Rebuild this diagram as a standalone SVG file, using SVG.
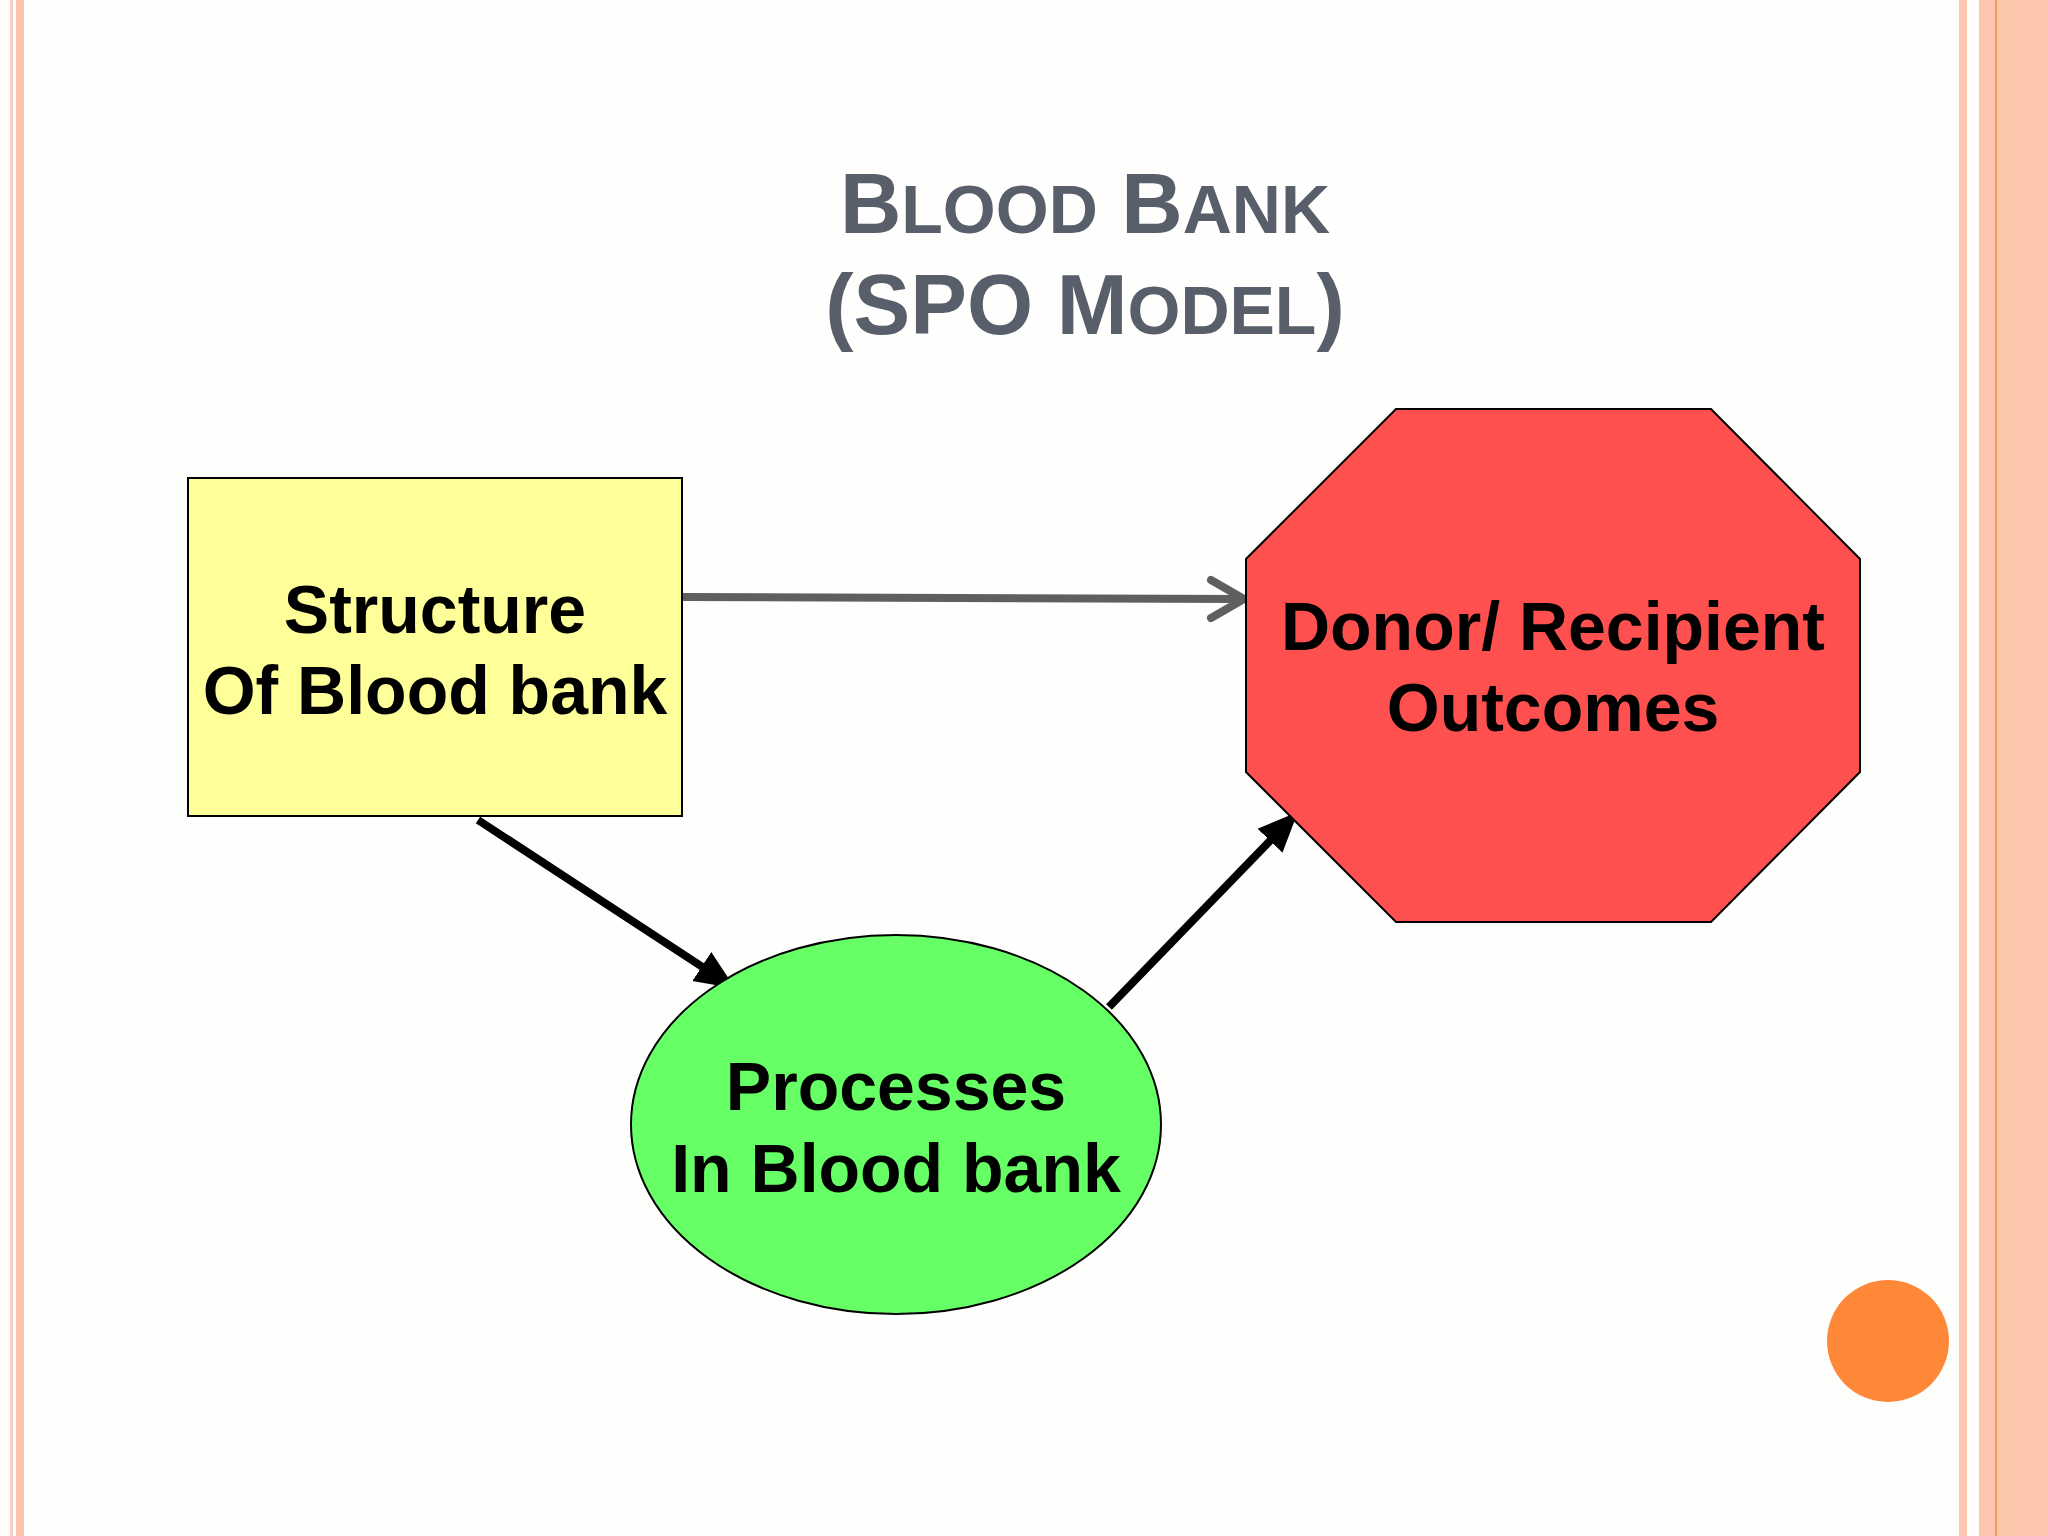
<svg xmlns="http://www.w3.org/2000/svg" width="2048" height="1536" viewBox="0 0 2048 1536">
  <style>
    .lbl { font-family: "Liberation Sans", Arial, sans-serif; font-weight: bold; font-size: 68px; fill: #000; text-anchor: middle; }
    .ttl { font-family: "Liberation Sans", Arial, sans-serif; font-weight: bold; font-size: 85px; fill: #595E6B; text-anchor: middle; }
    .sc { font-size: 68px; }
    .node { stroke: #000; stroke-width: 2; }
    .blk { stroke: #000; stroke-width: 8; fill: none; }
    .gry { stroke: #5F5F5F; stroke-width: 8; fill: none; stroke-linecap: round; stroke-linejoin: round; }
  </style>
  <defs>
    <marker id="tri" markerUnits="userSpaceOnUse" markerWidth="40" markerHeight="40" viewBox="0 0 30 26" refX="28" refY="13" orient="auto">
      <path d="M0,0 L30,13 L0,26 Z" fill="#000"/>
    </marker>
  </defs>
  <rect x="0" y="0" width="2048" height="1536" fill="#FEFEFC"/>
  <g id="border">
    <rect x="10" y="0" width="3" height="1536" fill="#F8CFC2"/>
    <rect x="16" y="0" width="8" height="1536" fill="#FCC2AA"/>
    <rect x="1959" y="0" width="8" height="1536" fill="#FCC8B4"/>
    <rect x="1979" y="0" width="69" height="1536" fill="#FDC5AE"/>
    <rect x="1995" y="0" width="2" height="1536" fill="#F79565"/>
    <rect x="1997" y="0" width="14" height="1536" fill="#FBC8AA"/>
  </g>
  <g id="title">
    <text class="ttl" x="1085" y="233">B<tspan class="sc">LOOD</tspan> B<tspan class="sc">ANK</tspan></text>
    <text class="ttl" x="1085" y="334">(SPO M<tspan class="sc">ODEL</tspan>)</text>
  </g>
  <g id="connectors">
    <path class="gry" d="M682,597 L1242,599"/>
    <path class="gry" d="M1211,580 L1244,599 L1211,618"/>
    <path class="blk" d="M478,820 L733,987" marker-end="url(#tri)"/>
    <path class="blk" d="M1109,1007 L1296,814" marker-end="url(#tri)"/>
  </g>
  <g id="structure">
    <rect class="node" x="188" y="478" width="494" height="338" fill="#FFFF99"/>
    <text class="lbl" x="435" y="633">Structure</text>
    <text class="lbl" x="435" y="714">Of Blood bank</text>
  </g>
  <g id="processes">
    <ellipse class="node" cx="896" cy="1124.5" rx="265" ry="189.5" fill="#66FF66"/>
    <text class="lbl" x="896" y="1110">Processes</text>
    <text class="lbl" x="896" y="1192">In Blood bank</text>
  </g>
  <g id="outcomes">
    <polygon class="node" points="1396,409 1711,409 1860,559 1860,772 1711,922 1396,922 1246,772 1246,559" fill="#FF5050"/>
    <text class="lbl" x="1553" y="650">Donor/ Recipient</text>
    <text class="lbl" x="1553" y="731">Outcomes</text>
  </g>
  <circle id="dot" cx="1888" cy="1341" r="61" fill="#FF8838"/>
</svg>
